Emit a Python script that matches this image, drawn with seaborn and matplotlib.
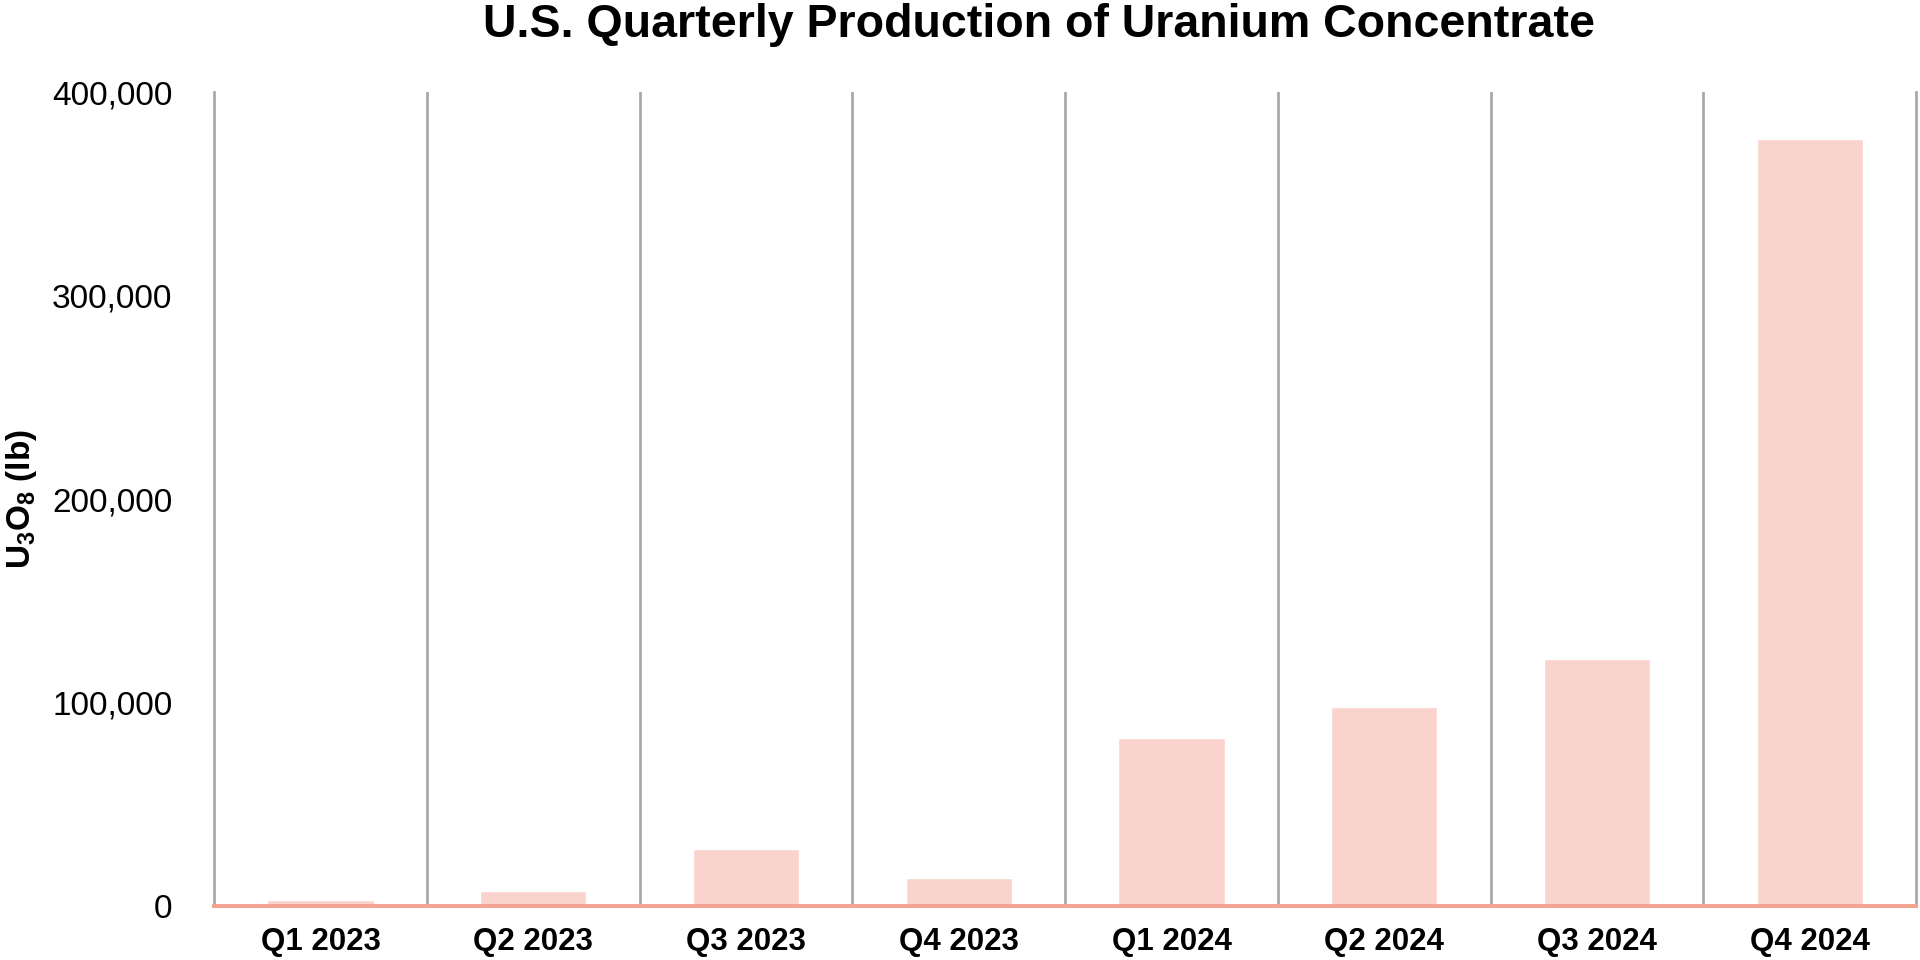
import numpy as np
import pandas as pd
import seaborn as sns
import matplotlib.pyplot as plt
from matplotlib.ticker import FuncFormatter, FixedLocator

#############################################
# data
#############################################
quarters = ['Q1 2023', 'Q2 2023', 'Q3 2023', 'Q4 2023',
            'Q1 2024', 'Q2 2024', 'Q3 2024', 'Q4 2024']
production_lb = [3000, 7600, 28200, 13900, 82600, 97800, 121600, 377000]
y_ticks = [0, 100000, 200000, 300000, 400000]

df = pd.DataFrame({'quarter': quarters, 'lb': production_lb})

#############################################
# style
#############################################
sns.set_style('white')
plt.rcParams['font.family'] = ['Liberation Sans', 'DejaVu Sans']
plt.rcParams['mathtext.fontset'] = 'custom'
plt.rcParams['mathtext.rm'] = 'Liberation Sans'
plt.rcParams['mathtext.bf'] = 'Liberation Sans:bold'
plt.rcParams['text.color'] = 'black'
plt.rcParams['axes.labelcolor'] = 'black'
plt.rcParams['xtick.color'] = 'black'
plt.rcParams['ytick.color'] = 'black'

bar_color = '#F9D3CC'
base_color = '#F2A28F'
grid_color = '#A6A6A6'

fig = plt.figure(figsize=(19.2, 9.6), dpi=100)
ax = fig.add_axes([0.1115, 0.056, 0.8865, 0.848])

sns.barplot(data=df, x='quarter', y='lb', color=bar_color, width=0.5,
            saturation=1, ax=ax, zorder=2)

ax.set_xlim(-0.5, len(quarters) - 0.5)
ax.set_ylim(0, 400000)
ax.yaxis.set_major_locator(FixedLocator(y_ticks))
ax.yaxis.set_major_formatter(FuncFormatter(lambda v, p: f'{int(v):,}'))

# vertical separators between categories
ax.xaxis.set_minor_locator(FixedLocator(np.arange(0.5, len(quarters) - 1, 1)))
ax.grid(which='minor', axis='x', color=grid_color, linewidth=1.9, zorder=1)
ax.grid(which='major', visible=False)

for side in ['left', 'right']:
    ax.spines[side].set_color(grid_color)
    ax.spines[side].set_linewidth(1.9)
ax.spines['top'].set_visible(False)
ax.spines['bottom'].set_color(base_color)
ax.spines['bottom'].set_linewidth(2.8)
ax.spines['bottom'].set_zorder(3)

ax.tick_params(axis='both', which='both', length=0)
ax.tick_params(axis='y', labelsize=24, pad=30)
ax.tick_params(axis='x', labelsize=22.5, pad=15)
for lbl in ax.get_xticklabels():
    lbl.set_fontweight('bold')

ax.set_xlabel('')
ax.set_ylabel(r'$\mathbf{U_3O_8}$ (lb)', fontsize=24, fontweight='bold', va='center')
ax.yaxis.set_label_coords(-0.113, 0.5)

fig.suptitle('U.S. Quarterly Production of Uranium Concentrate',
             fontsize=33.5, fontweight='bold', x=0.541, y=0.997)

plt.savefig('out.png', dpi=100)
